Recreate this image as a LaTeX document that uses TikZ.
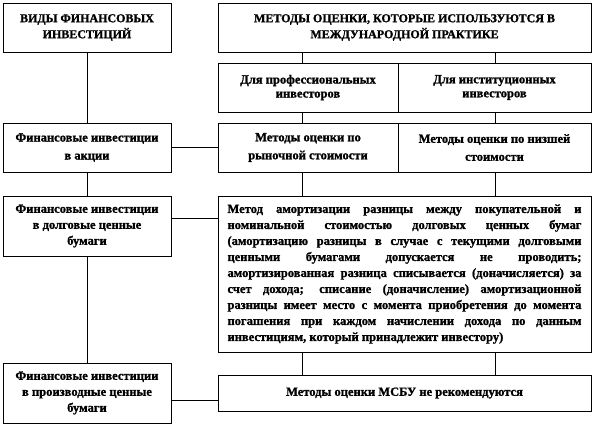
\documentclass[tikz,border=0pt]{standalone}
\usepackage{fontspec}
\setmainfont{Liberation Serif}[BoldFont={Liberation Serif Bold},BoldFeatures={FakeBold=1.2}]
\begin{document}
\begin{tikzpicture}[x=0.75pt,y=-0.75pt,line width=0.75pt,
  box/.style={draw, inner sep=0pt, align=center, font=\fontsize{9.4}{12}\selectfont\bfseries},
  boxs/.style={box, font=\fontsize{9.4}{10.5}\selectfont\bfseries},
  boxw/.style={box, font=\fontsize{9.4}{13.5}\selectfont\bfseries},
  boxt/.style={box, font=\fontsize{9}{12}\selectfont\bfseries}]
\useasboundingbox (0,0) rectangle (594,426);
% left column
\node[boxt, minimum width=126pt, minimum height=36.75pt] (L1) at (87,27.5) {ВИДЫ ФИНАНСОВЫХ\\ИНВЕСТИЦИЙ};
\node[boxw, minimum width=126pt, minimum height=36.75pt] (L2) at (87,147.5) {Финансовые инвестиции\\в акции};
\node[box, minimum width=126pt, minimum height=45pt] (L3) at (87,226) {Финансовые инвестиции\\в долговые ценные\\бумаги};
\node[box, minimum width=126pt, minimum height=45pt] (L4) at (87,393) {Финансовые инвестиции\\в производные ценные\\бумаги};
% right column
\node[boxt, minimum width=279.75pt, minimum height=36.75pt] (R0) at (404.5,27.5) {МЕТОДЫ ОЦЕНКИ, КОТОРЫЕ ИСПОЛЬЗУЮТСЯ В\\МЕЖДУНАРОДНОЙ ПРАКТИКЕ};
\node[boxs, minimum width=135pt, minimum height=36.75pt] (A) at (308,87.5) {Для профессиональных\\инвесторов};
\node[boxs, minimum width=144.75pt, minimum height=36.75pt] (B) at (494.5,87.5) {Для институционных\\инвесторов};
\node[boxw, minimum width=135pt, minimum height=36.75pt] (C) at (308,147.5) {Методы оценки по\\рыночной стоимости};
\node[boxw, minimum width=144.75pt, minimum height=36.75pt] (D) at (494.5,147.5) {Методы оценки по низшей\\стоимости};
\node[box, minimum width=279.75pt, minimum height=117pt, align=left] (M) at (404.5,274) {%
\makebox[265.5pt][s]{Метод амортизации разницы между покупательной и}\\
\makebox[265.5pt][s]{номинальной стоимостью долговых ценных бумаг}\\
\makebox[265.5pt][s]{(амортизацию разницы в случае с текущими долговыми}\\
\makebox[265.5pt][s]{ценными бумагами допускается не проводить;}\\
\makebox[265.5pt][s]{амортизированная разница списывается (доначисляется) за}\\
\makebox[265.5pt][s]{счет дохода; списание (доначисление) амортизационной}\\
\makebox[265.5pt][s]{разницы имеет место с момента приобретения до момента}\\
\makebox[265.5pt][s]{погашения при каждом начислении дохода по данным}\\
инвестициям, который принадлежит инвестору)};
\node[box, minimum width=279.75pt, minimum height=27pt] (N) at (404.5,393) {Методы оценки МСБУ не рекомендуются};
% connector guides
\coordinate (xa) at (302,0);
\coordinate (xb) at (495,0);
\coordinate (y3) at (0,218);
\coordinate (y4) at (0,400);
% left vertical
\draw (L1.south) -- (L2.north);
\draw (L2.south) -- (L3.north);
\draw (L3.south) -- (L4.north);
% right verticals
\draw (xa |- R0.south) -- (xa |- A.north);
\draw (xb |- R0.south) -- (xb |- B.north);
\draw (xa |- A.south) -- (xa |- C.north);
\draw (xb |- B.south) -- (xb |- D.north);
\draw (xa |- C.south) -- (xa |- M.north);
\draw (xb |- D.south) -- (xb |- M.north);
\draw (xa |- M.south) -- (xa |- N.north);
\draw (xb |- M.south) -- (xb |- N.north);
% horizontals
\draw (L2.east) -- (C.west);
\draw (L3.east |- y3) -- (M.west |- y3);
\draw (L4.east |- y4) -- (N.west |- y4);
\end{tikzpicture}
\end{document}
